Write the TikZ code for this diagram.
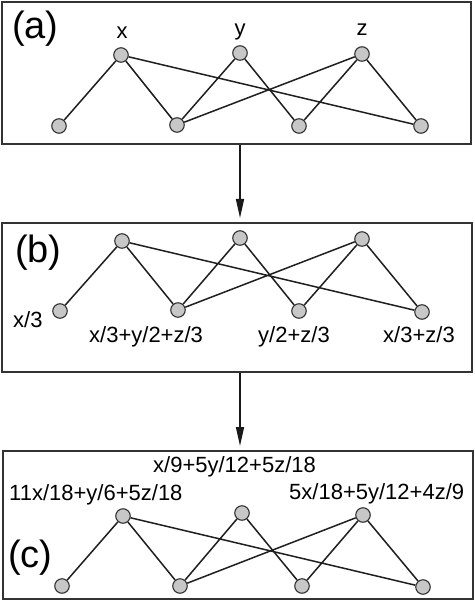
\documentclass[tikz,border=0pt]{standalone}
\usepackage{fontspec}
\setmainfont{Liberation Sans}
\usetikzlibrary{arrows.meta}
\begin{document}
\begin{tikzpicture}[x=1pt,y=-1pt,
  panel/.style={draw=black!80, line width=2pt, inner sep=0pt},
  dot/.style={circle, draw=black!80, fill=black!22, line width=1.1pt, minimum size=14.5pt, inner sep=0pt},
  edge/.style={line width=1.5pt, draw=black!88},
  lbl/.style={font=\fontsize{22}{26}\selectfont, inner sep=0pt, anchor=base west},
  vlbl/.style={font=\fontsize{22}{26}\selectfont, inner sep=0pt, anchor=base},
  tag/.style={font=\fontsize{38}{44}\selectfont, inner sep=0pt, anchor=base west},
  arr/.style={line width=1.5pt, draw=black!90, -{Triangle[length=19pt,width=8pt]}, shorten >=4pt}]
\useasboundingbox (0,0) rectangle (474,601);
\fill[white] (0,0) rectangle (474,601);

% panels
\node[panel, minimum width=469pt, minimum height=142pt] (A) at (236.5,73) {};
\node[panel, minimum width=470pt, minimum height=149pt] (B) at (237,297.5) {};
\node[panel, minimum width=470pt, minimum height=148pt] (C) at (238,525) {};

% arrows between panels
\coordinate (ax) at (240,0);
\draw[arr] (A.south -| ax) -- (B.north -| ax);
\draw[arr] (B.south -| ax) -- (C.north -| ax);

% panel (a)
\node[dot] (a1) at (121,55) {};
\node[dot] (a2) at (240,53) {};
\node[dot] (a3) at (362,54) {};
\node[dot] (a4) at (59,126) {};
\node[dot] (a5) at (177,125) {};
\node[dot] (a6) at (299,126) {};
\node[dot] (a7) at (421,126) {};
\draw[edge] (a1) -- (a4) (a1) -- (a5) (a1) -- (a7)
            (a2) -- (a5) (a2) -- (a6)
            (a3) -- (a5) (a3) -- (a6) (a3) -- (a7);
\node[tag] (ta) at (12,39) {(a)};
\node[vlbl] (lx) at (122,39) {x};
\node[vlbl] (ly) at (240,36) {y};
\node[vlbl] (lz) at (362,36) {z};

% panel (b)
\node[dot] (b1) at (122,241) {};
\node[dot] (b2) at (240,238) {};
\node[dot] (b3) at (362,239) {};
\node[dot] (b4) at (60,311) {};
\node[dot] (b5) at (178,310) {};
\node[dot] (b6) at (299,311) {};
\node[dot] (b7) at (422,312) {};
\draw[edge] (b1) -- (b4) (b1) -- (b5) (b1) -- (b7)
            (b2) -- (b5) (b2) -- (b6)
            (b3) -- (b5) (b3) -- (b6) (b3) -- (b7);
\node[tag] (tb) at (15,262) {(b)};
\node[lbl] (lb4) at (13,327) {x/3};
\node[lbl] (lb5) at (89,342) {x/3+y/2+z/3};
\node[lbl] (lb6) at (258,342) {y/2+z/3};
\node[lbl] (lb7) at (383,342) {x/3+z/3};

% panel (c)
\node[dot] (c1) at (123,516) {};
\node[dot] (c2) at (242,513) {};
\node[dot] (c3) at (363,515) {};
\node[dot] (c4) at (62,586) {};
\node[dot] (c5) at (180,586) {};
\node[dot] (c6) at (302,586) {};
\node[dot] (c7) at (423,587) {};
\draw[edge] (c1) -- (c4) (c1) -- (c5) (c1) -- (c7)
            (c2) -- (c5) (c2) -- (c6)
            (c3) -- (c5) (c3) -- (c6) (c3) -- (c7);
\node[tag] (tc) at (8,567) {(c)};
\node[lbl] (lc2) at (153,472) {x/9+5y/12+5z/18};
\node[lbl] (lc1) at (9,500) {11x/18+y/6+5z/18};
\node[lbl] (lc3) at (289,499) {5x/18+5y/12+4z/9};
\end{tikzpicture}
\end{document}
